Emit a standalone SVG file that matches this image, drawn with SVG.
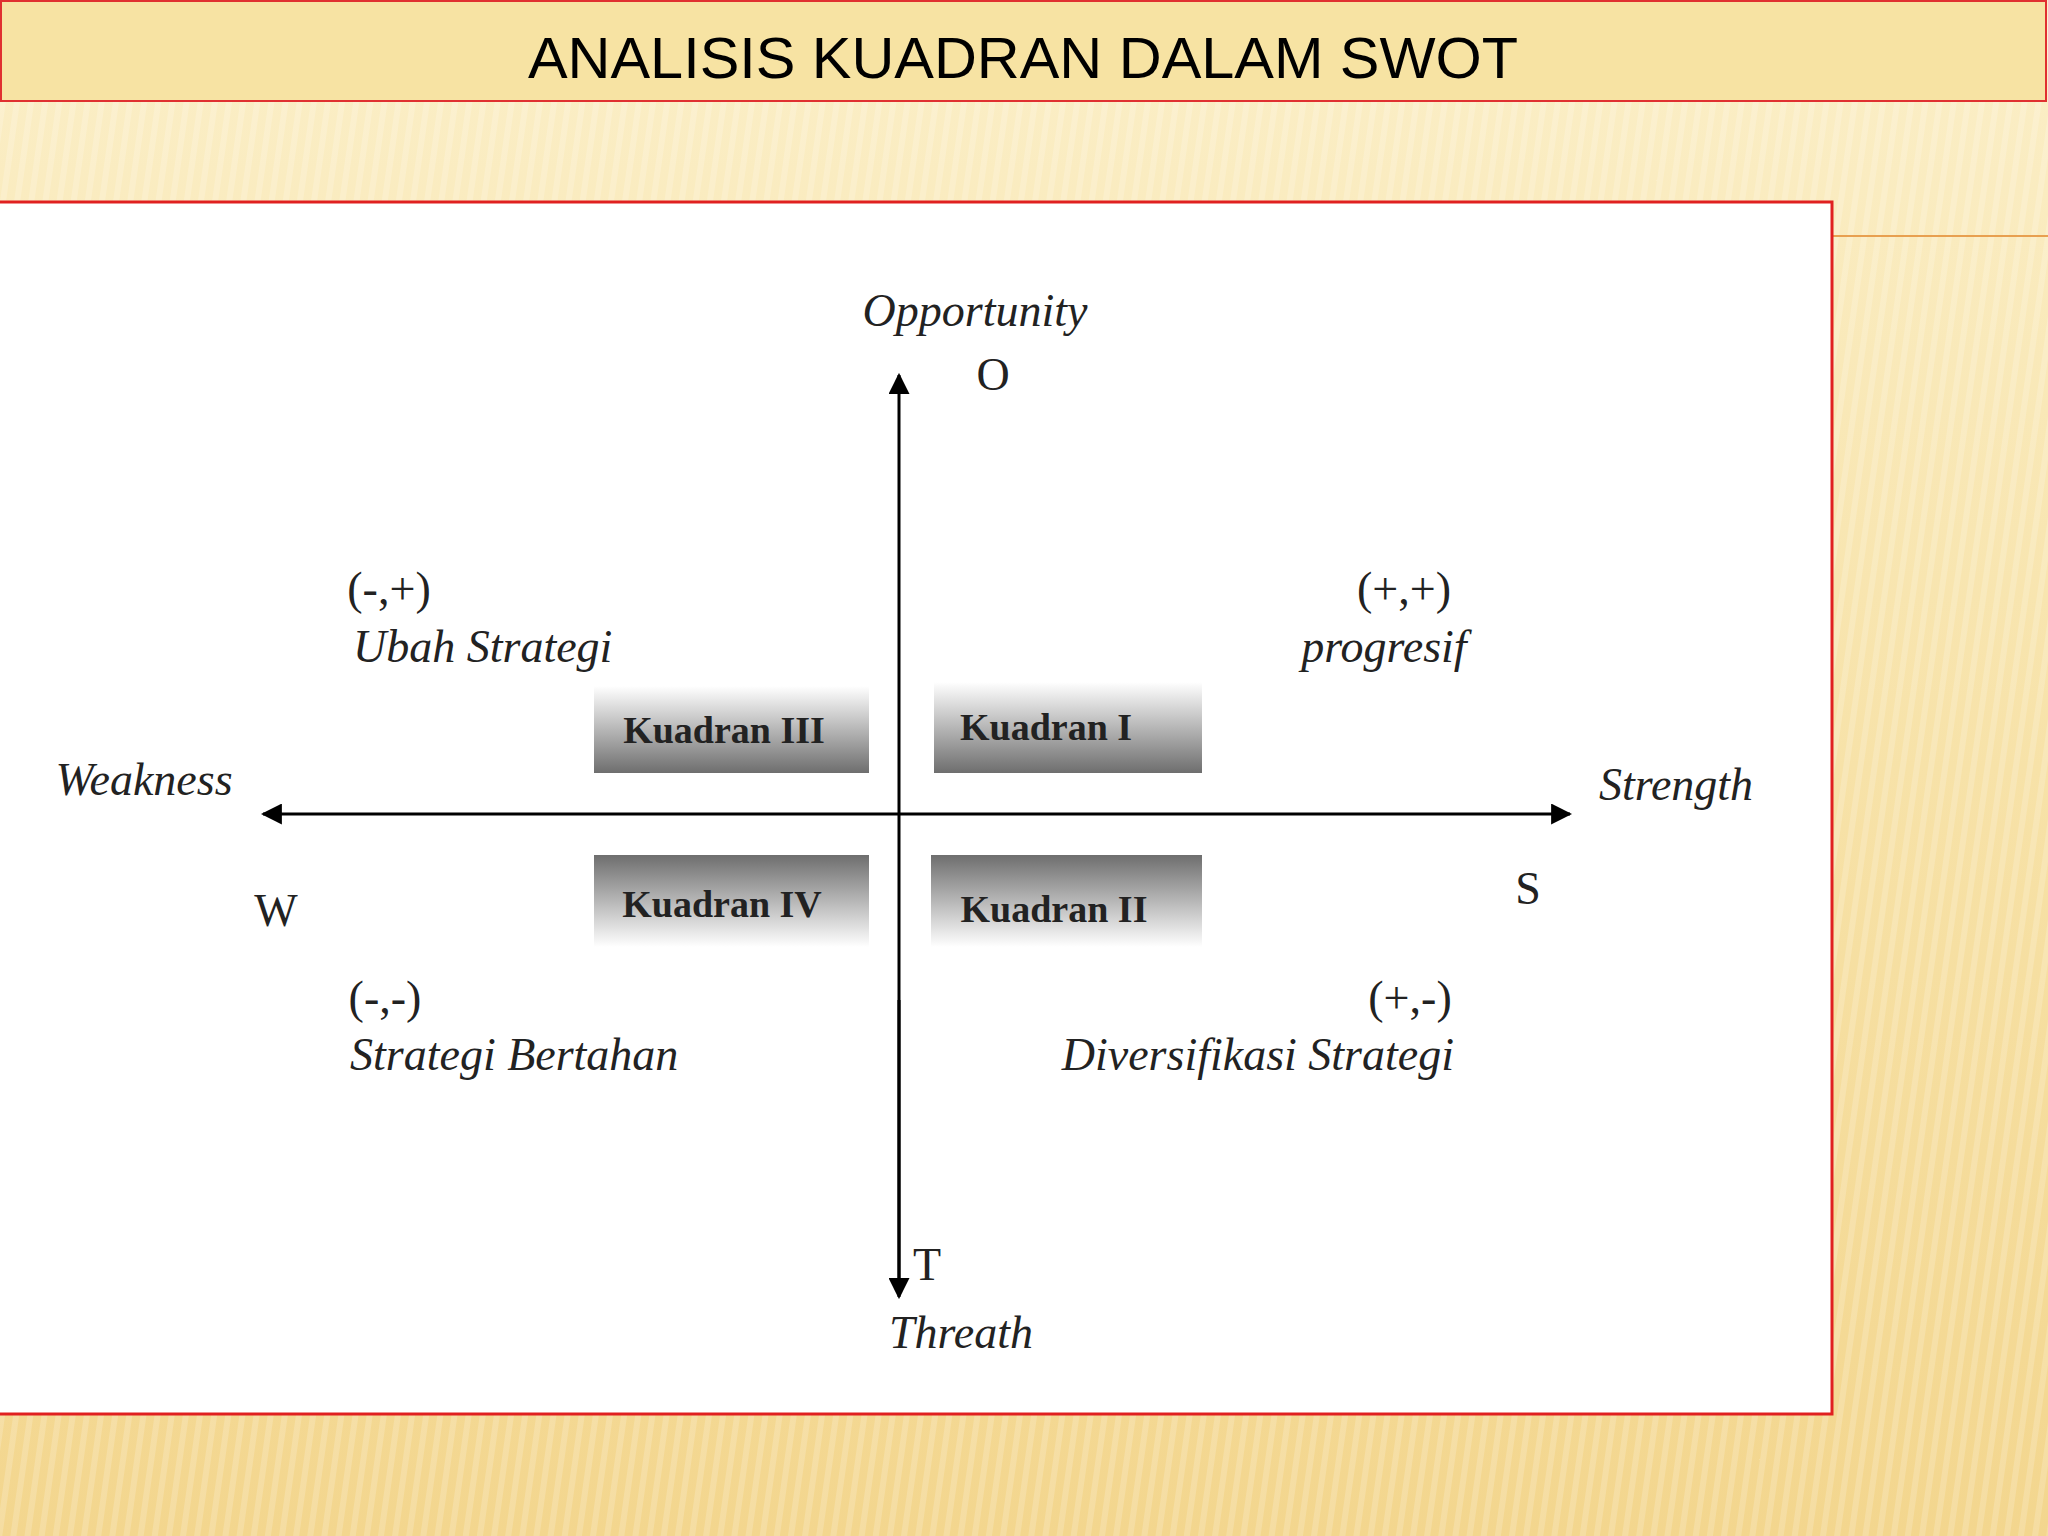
<svg xmlns="http://www.w3.org/2000/svg" width="2048" height="1536" viewBox="0 0 2048 1536">
<defs>
<linearGradient id="bg" x1="0" y1="0" x2="0" y2="1"><stop offset="0" stop-color="#fbefc8"/><stop offset="0.5" stop-color="#f7e2a8"/><stop offset="1" stop-color="#f3d68e"/></linearGradient>
<linearGradient id="top" x1="0" y1="0" x2="0" y2="1"><stop offset="0" stop-color="#ffffff"/><stop offset="1" stop-color="#6e6e6e"/></linearGradient>
<linearGradient id="bot" x1="0" y1="0" x2="0" y2="1"><stop offset="0" stop-color="#6e6e6e"/><stop offset="1" stop-color="#ffffff"/></linearGradient>
<pattern id="str" width="14" height="14" patternUnits="userSpaceOnUse" patternTransform="rotate(8)"><rect width="6" height="14" fill="#ffffff" opacity="0.18"/></pattern>
<marker id="ah" viewBox="0 0 10 10" refX="9" refY="5" markerWidth="7" markerHeight="7" orient="auto"><path d="M0,0 L10,5 L0,10 z" fill="#000"/></marker>
</defs>
<style>
.t{font-family:"Liberation Serif",serif;font-size:46px;fill:#222}
.i{font-style:italic}
.b{font-weight:bold;font-size:38px;fill:#222}
</style>
<rect width="2048" height="1536" fill="url(#bg)"/>
<rect width="2048" height="1536" fill="url(#str)"/>
<line x1="1832" y1="236" x2="2048" y2="236" stroke="#e8a050" stroke-width="2"/>
<g id="title"><rect x="1" y="1" width="2045" height="100" fill="#f7e3a3" stroke="#e03030" stroke-width="2"/>
<text x="1023" y="78" text-anchor="middle" font-family="Liberation Sans, sans-serif" font-size="58" fill="#000" textLength="990" lengthAdjust="spacingAndGlyphs">ANALISIS  KUADRAN DALAM SWOT</text></g>
<rect x="-2" y="202" width="1834" height="1212" fill="#fff" stroke="#e02020" stroke-width="3"/>
<g id="connectors" stroke="#000" stroke-width="3">
<line x1="899" y1="1290" x2="899" y2="375" marker-end="url(#ah)"/>
<line x1="899" y1="1000" x2="899" y2="1297" marker-end="url(#ah)"/>
<line x1="899" y1="814" x2="1570" y2="814" marker-end="url(#ah)"/>
<line x1="899" y1="814" x2="263" y2="814" marker-end="url(#ah)"/>
</g>
<g id="labels">
<text class="t i" x="975" y="326" text-anchor="middle">Opportunity</text>
<text class="t" x="993" y="390" text-anchor="middle">O</text>
<text class="t i" x="144" y="795" text-anchor="middle">Weakness</text>
<text class="t" x="276" y="926" text-anchor="middle">W</text>
<text class="t i" x="1676" y="800" text-anchor="middle">Strength</text>
<text class="t" x="1528" y="904" text-anchor="middle">S</text>
<text class="t" x="927" y="1280" text-anchor="middle">T</text>
<text class="t i" x="961" y="1348" text-anchor="middle">Threath</text>
<text class="t" x="389" y="604" text-anchor="middle">(-,+)</text>
<text class="t i" x="353" y="662">Ubah Strategi</text>
<text class="t" x="1404" y="604" text-anchor="middle">(+,+)</text>
<text class="t i" x="1384" y="662" text-anchor="middle">progresif</text>
<text class="t" x="385" y="1013" text-anchor="middle">(-,-)</text>
<text class="t i" x="350" y="1070">Strategi Bertahan</text>
<text class="t" x="1410" y="1013" text-anchor="middle">(+,-)</text>
<text class="t i" x="1454" y="1070" text-anchor="end">Diversifikasi Strategi</text>
</g>
<g id="k3"><rect x="594" y="686" width="275" height="87" fill="url(#top)"/><text class="t b" x="724" y="743" text-anchor="middle">Kuadran III</text></g>
<g id="k1"><rect x="934" y="682" width="268" height="91" fill="url(#top)"/><text class="t b" x="1046" y="740" text-anchor="middle">Kuadran I</text></g>
<g id="k4"><rect x="594" y="855" width="275" height="92" fill="url(#bot)"/><text class="t b" x="722" y="917" text-anchor="middle">Kuadran IV</text></g>
<g id="k2"><rect x="931" y="855" width="271" height="92" fill="url(#bot)"/><text class="t b" x="1054" y="922" text-anchor="middle">Kuadran II</text></g>
</svg>
